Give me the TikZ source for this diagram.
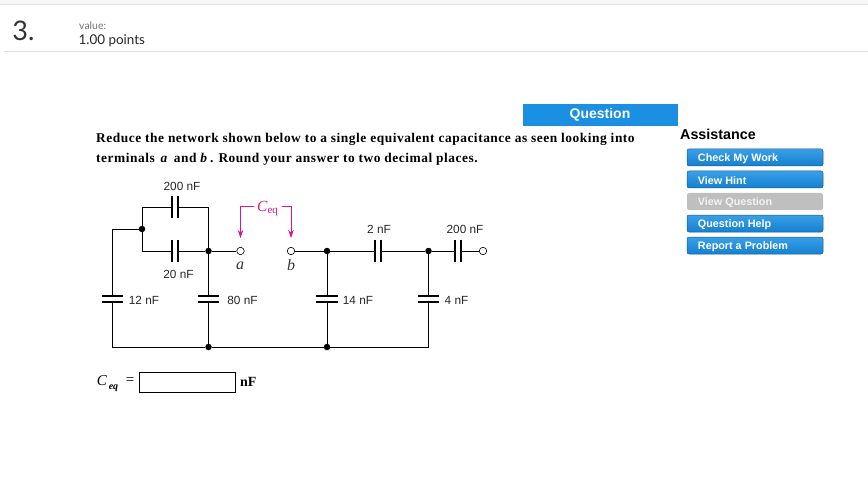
\documentclass[tikz,border=0pt]{standalone}
\usepackage{fontspec}
\setmainfont{Liberation Serif}
\setsansfont{Liberation Sans}
\newfontfamily\headfont{Lato}
\usetikzlibrary{positioning, arrows.meta, shapes}
\definecolor{barblue}{HTML}{1B8FE1}
\definecolor{btntop}{HTML}{3A9FE8}
\definecolor{btnbot}{HTML}{1580D0}
\definecolor{btnedge}{HTML}{1A5A8C}
\definecolor{capmag}{HTML}{E0128C}
\tikzstyle{wire} = [line width=0.9pt, black]
\tikzstyle{plate} = [line width=1.5pt, black]
\tikzstyle{hcap} = [rectangle, inner sep=0pt, minimum width=5.5pt, minimum height=21pt,
append after command={(\tikzlastnode.north west) edge[plate] (\tikzlastnode.south west)
(\tikzlastnode.north east) edge[plate] (\tikzlastnode.south east)}]
\tikzstyle{vcap} = [rectangle, inner sep=0pt, minimum width=21pt, minimum height=5.5pt,
append after command={(\tikzlastnode.north west) edge[plate] (\tikzlastnode.north east)
(\tikzlastnode.south west) edge[plate] (\tikzlastnode.south east)}]
\tikzstyle{dot} = [circle, fill=black, inner sep=0pt, minimum size=6.5pt]
\tikzstyle{term} = [circle, draw=black, line width=0.6pt, fill=white, inner sep=0pt, minimum size=7.5pt]
\tikzstyle{val} = [inner sep=0pt, font=\sffamily\fontsize{11.8}{13}\selectfont, text=black!85]
\tikzstyle{body} = [inner sep=0pt, anchor=west, font=\fontsize{13.4}{15}\selectfont\bfseries\addfontfeatures{LetterSpace=4}]
\tikzstyle{btn} = [rectangle, rounded corners=2pt, minimum width=136pt, minimum height=17pt,
inner sep=0pt, text=white, draw=btnedge, line width=0.5pt, top color=btntop, bottom color=btnbot]
\tikzstyle{btnlabel} = [inner sep=0pt, anchor=west, text=white, font=\sffamily\bfseries\fontsize{10.8}{13}\selectfont]
\tikzstyle{magarrow} = [line width=1pt, capmag, -{Stealth[length=8pt,width=5.5pt]}]
\begin{document}
\begin{tikzpicture}[x=1pt, y=-1pt, node distance=22pt]
\useasboundingbox (0,0) rectangle (868,484);

\fill [black!3] (0,0) rectangle (868,4);
\coordinate (topl) at (0,4);
\coordinate (topr) at (868,4);
\coordinate (midl) at (4,51);
\coordinate (midr) at (868,51);
\draw [black!12, line width=0.7pt] (topl) -- (topr);
\draw [black!12, line width=0.7pt] (midl) -- (midr);

\node (num) [inner sep=0pt, font=\headfont\fontsize{27}{28}\selectfont, text=black!80] at (23.5,30.5) {3.};
\node (value) [inner sep=0pt, anchor=west, font=\headfont\fontsize{10.5}{12}\selectfont, text=black!55] at (79,26) {value:};
\node (points) [inner sep=0pt, anchor=west, font=\headfont\fontsize{13.4}{15}\selectfont, text=black!85] at (78.5,41) {1.00 points};

\node (qbar) [rectangle, fill=barblue, minimum width=155pt, minimum height=22pt, inner sep=0pt] at (600.5,115) {};
\node (qtitle) [inner sep=0pt, text=white, font=\sffamily\bfseries\fontsize{14}{15}\selectfont] at (600,115) {Question};

\node (line1) [body] at (96,139) {Reduce the network shown below to a single equivalent capacitance as seen looking into};
\node (line2) [body] at (96,159) {terminals\hspace{2pt} \textit{a}\hspace{2pt} and \textit{b}\hspace{-1.5pt} . Round your answer to two decimal places.};

\node (assist) [inner sep=0pt, anchor=west, font=\sffamily\bfseries\fontsize{14.3}{15}\selectfont] at (680,134) {Assistance};
\node (btn1) [btn] at (755,157.5) {};
\node (btn2) [btn, below of=btn1] {};
\node (btn3) [btn, below of=btn2, draw=none, top color=black!25, bottom color=black!25] {};
\node (btn4) [btn, below of=btn3] {};
\node (btn5) [btn, below of=btn4] {};
\node (lab1) [btnlabel, right=11pt of btn1.west, yshift=-1.5pt] {Check My Work};
\node (lab2) [btnlabel, right=11pt of btn2.west, yshift=-1.5pt] {View Hint};
\node (lab3) [btnlabel, right=11pt of btn3.west, yshift=-1.5pt, text=black!5] {View Question};
\node (lab4) [btnlabel, right=11pt of btn4.west, yshift=-1.5pt] {Question Help};
\node (lab5) [btnlabel, right=11pt of btn5.west, yshift=-1.5pt] {Report a Problem};

\node (c200) [hcap] at (175,207) {};
\node (c20) [hcap] at (175,251) {};
\node (c12) [vcap] at (112.5,299) {};
\node (c80) [vcap] at (208.5,299) {};
\node (c14) [vcap] at (327,299) {};
\node (c4) [vcap] at (428.5,299) {};
\node (c2) [hcap] at (378,251) {};
\node (c200r) [hcap] at (458,251) {};

\node (jtop) [dot] at (142,229) {};
\node (jmid) [dot] at (208.5,251) {};
\node (jbot) [dot] at (208.5,347) {};
\node (jb) [dot] at (327,251) {};
\node (jr) [dot] at (428.5,251) {};
\node (jbot2) [dot] at (327,347) {};
\node (ta) [term] at (240.5,251) {};
\node (tb) [term] at (291,251) {};
\node (tr) [term] at (483,251) {};

\draw [wire] (jtop) -| (c12.north);
\draw [wire] (c12.south) |- (jbot);
\draw [wire] (jtop) |- (c200.west);
\draw [wire] (jtop) |- (c20.west);
\draw [wire] (c200.east) -| (jmid);
\draw [wire] (c20.east) -- (jmid);
\draw [wire] (jmid) -- (ta);
\draw [wire] (jmid) -- (c80.north);
\draw [wire] (c80.south) -- (jbot);
\draw [wire] (jbot) -- (jbot2);
\draw [wire] (tb) -- (jb);
\draw [wire] (jb) -- (c2.west);
\draw [wire] (c2.east) -- (jr);
\draw [wire] (jr) -- (c200r.west);
\draw [wire] (c200r.east) -- (tr);
\draw [wire] (jb) -- (c14.north);
\draw [wire] (c14.south) -- (jbot2);
\draw [wire] (jr) -- (c4.north);
\draw [wire] (c4.south) |- (jbot2);

\node (l200) [val] at (182,186.5) {200 nF};
\node (l20) [val] at (178.5,274) {20 nF};
\node (l12) [val] at (144,300) {12 nF};
\node (l80) [val] at (242.5,300) {80 nF};
\node (l2) [val] at (379,229.5) {2 nF};
\node (l200r) [val] at (465,229.5) {200 nF};
\node (l14) [val] at (358,300) {14 nF};
\node (l4) [val] at (456.5,300) {4 nF};
\node (la) [inner sep=0pt, font=\itshape\fontsize{16}{17}\selectfont, text=black!80] at (240,266) {a};
\node (lb) [inner sep=0pt, font=\itshape\fontsize{16}{17}\selectfont, text=black!80] at (291,265) {b};

\node (ceq) [inner sep=0pt, minimum width=28pt, text=capmag, font=\fontsize{15.5}{16}\selectfont] at (267.5,208.5) {\textit{C}\raisebox{-2.5pt}{\fontsize{11}{12}\selectfont eq}};
\coordinate (arra) at (240.5,238);
\coordinate (arrb) at (291,238);
\coordinate (stuba) at (253.5,207);
\coordinate (stubb) at (282,207);
\draw [magarrow] (stuba) -| (arra);
\draw [magarrow] (stubb) -| (arrb);

\node (cans) [inner sep=0pt, font=\fontsize{15}{16}\selectfont\itshape] at (102,380.5) {C};
\node (sans) [inner sep=0pt, font=\fontsize{10}{12}\selectfont\bfseries\itshape] at (113.5,388.5) {eq};
\node (eqs) [inner sep=0pt, font=\fontsize{15}{16}\selectfont] at (130,381) {=};
\node (box) [rectangle, draw=black, line width=0.8pt, minimum width=96pt, minimum height=20pt, inner sep=0pt] at (187,382) {};
\node (unit) [inner sep=0pt, anchor=west, font=\fontsize{14}{16}\selectfont\bfseries] at (240,381.5) {nF};
\end{tikzpicture}
\end{document}
